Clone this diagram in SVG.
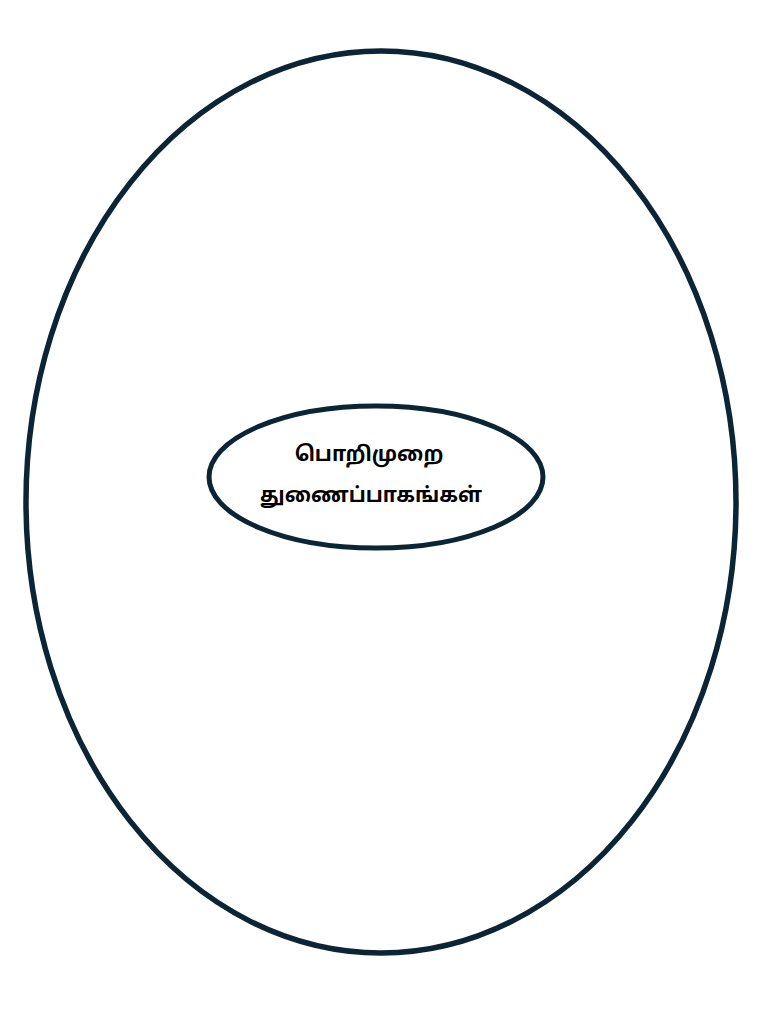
<svg xmlns="http://www.w3.org/2000/svg" width="768" height="1024" viewBox="0 0 768 1024">
<style>
.shape{fill:#ffffff;stroke:#0b2535;}
.lbl{font-family:"Noto Sans Tamil","Latha","Lohit Tamil","Noto Sans","DejaVu Sans",sans-serif;font-size:20.5px;font-weight:bold;fill:#000000;text-anchor:middle;}
</style>
<rect width="768" height="1024" fill="#ffffff"/>
<g id="outer">
<ellipse class="shape" cx="381" cy="502" rx="355" ry="451" stroke-width="5.5"/>
</g>
<g id="inner">
<ellipse class="shape" cx="376" cy="477" rx="167" ry="71" stroke-width="5"/>
<text class="lbl" x="369" y="461">பொறிமுறை</text>
<text class="lbl" x="371" y="502">துணைப்பாகங்கள்</text>
</g>
<g id="connectors"></g>
</svg>
